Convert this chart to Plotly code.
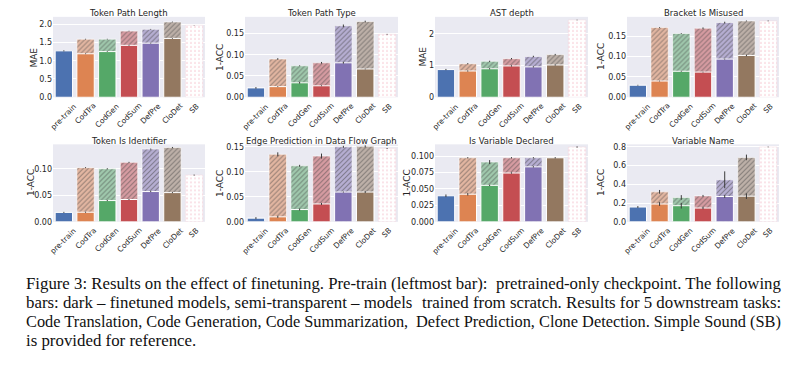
import plotly.graph_objects as go

# The page body has a default 8px margin; lay the figure out in page pixels.
OFF = 8
W, H = 796 - OFF, 367 - OFF

categories = ["pre-train", "CodTra", "CodGen", "CodSum", "DefPre", "CloDet", "SB"]
tasks = ["CodTra", "CodGen", "CodSum", "DefPre", "CloDet"]

titles = ["Token Path Length", "Token Path Type", "AST depth", "Bracket Is Misused",
          "Token Is Identifier", "Edge Prediction in Data Flow Graph",
          "Is Variable Declared", "Variable Name"]
ylabels = ["MAE", "1-ACC", "MAE", "1-ACC", "1-ACC", "1-ACC", "1-ACC", "1-ACC"]

pretrain = [1.27, 0.022, 0.875, 0.0297, 0.0177, 0.0073, 0.0396, 0.158]
pretrain_err = [0.015, 0.002, 0.02, 0.001, 0.001, 0.002, 0.002, 0.01]

finetuned = [
    [1.19, 1.25, 1.42, 1.48, 1.61],
    [0.025, 0.034, 0.027, 0.081, 0.0665],
    [0.83, 0.90, 0.99, 0.96, 1.02],
    [0.040, 0.064, 0.062, 0.094, 0.103],
    [0.018, 0.040, 0.042, 0.057, 0.055],
    [0.0099, 0.0245, 0.0357, 0.0595, 0.0595],
    [0.042, 0.0555, 0.0743, 0.0837, 0.0975],
    [0.19, 0.172, 0.147, 0.27, 0.274],
]
finetuned_err = [
    [0.01, 0.01, 0.01, 0.01, 0.01],
    [0.001, 0.002, 0.001, 0.002, 0.001],
    [0.02, 0.02, 0.02, 0.02, 0.02],
    [0.001, 0.001, 0.001, 0.001, 0.002],
    [0.001, 0.001, 0.001, 0.001, 0.001],
    [0.002, 0.002, 0.002, 0.001, 0.002],
    [0.002, 0.001, 0.001, 0.001, 0.001],
    [0.02, 0.03, 0.012, 0.015, 0.03],
]
scratch = [
    [1.59, 1.59, 1.81, 1.86, 2.06],
    [0.090, 0.074, 0.081, 0.168, 0.178],
    [1.06, 1.135, 1.22, 1.29, 1.35],
    [0.172, 0.157, 0.170, 0.184, 0.188],
    [0.102, 0.100, 0.112, 0.137, 0.140],
    [0.135, 0.112, 0.1315, 0.150, 0.151],
    [0.0975, 0.091, 0.0975, 0.0975, 0.0965],
    [0.32, 0.26, 0.277, 0.449, 0.688],
]
scratch_err = [
    [0.01, 0.01, 0.01, 0.01, 0.01],
    [0.002, 0.001, 0.002, 0.003, 0.002],
    [0.02, 0.02, 0.02, 0.02, 0.02],
    [0.001, 0.001, 0.002, 0.002, 0.001],
    [0.001, 0.001, 0.001, 0.001, 0.001],
    [0.004, 0.002, 0.005, 0.002, 0.002],
    [0.001, 0.003, 0.001, 0.001, 0.001],
    [0.02, 0.025, 0.01, 0.09, 0.03],
]
sb = [1.97, 0.148, 2.44, 0.188, 0.088, 0.1467, 0.1139, 0.80]
sb_err = [0.005, 0.001, 0.01, 0.001, 0.001, 0.001, 0.001, 0.004]

yranges = [2.2, 0.189, 2.54, 0.198, 0.146, 0.155, 0.118, 0.828]
yticks = [
    [0, 0.5, 1.0, 1.5, 2.0],
    [0, 0.05, 0.10, 0.15],
    [0, 1, 2],
    [0, 0.05, 0.10, 0.15],
    [0, 0.05, 0.10],
    [0, 0.05, 0.10, 0.15],
    [0, 0.025, 0.05, 0.075, 0.10],
    [0, 0.2, 0.4, 0.6, 0.8],
]
yfmt = [".1f", ".2f", "d", ".2f", ".2f", ".2f", ".3f", ".1f"]

caption_lines = [
    ("Figure 3: Results on the effect of finetuning. Pre-train (leftmost bar):",
     "pretrained-only checkpoint. The following"),
    ("bars: dark \u2013 finetuned models, semi-transparent \u2013 models",
     "trained from scratch. Results for 5 downstream tasks:"),
    ("Code Translation, Code Generation, Code Summarization,",
     "Defect Prediction, Clone Detection. Simple Sound (SB)"),
    ("is provided for reference.", ""),
]

colors = ["#4C72B0", "#DD8452", "#55A868", "#C44E52", "#8172B3", "#937860"]
BG = (234, 234, 242)


def blend(h, a):
    h = h.lstrip("#")
    rgb = (int(h[0:2], 16), int(h[2:4], 16), int(h[4:6], 16))
    r, g, b = (round(a * v + (1 - a) * bg) for v, bg in zip(rgb, BG))
    return f"rgb({r},{g},{b})"


def px_x(p):
    return (p - OFF) / W


def px_y(p):
    return 1 - (p - OFF) / H


# layout in page pixels
col_px = [(53, 205), (245, 398), (435, 588), (627, 779)]
row_px = [(15, 97), (145, 224)]
ytitle_x = [[34.5, 220, 423.5, 601], [31, 220, 407.5, 601]]

TXT = "#262626"
fig = go.Figure()
annotations = []

for k in range(8):
    r, c = divmod(k, 4)
    n = k + 1
    xa = "x" if n == 1 else f"x{n}"
    ya = "y" if n == 1 else f"y{n}"
    # scratch (semi-transparent, hatched)
    fig.add_trace(go.Bar(
        x=tasks, y=scratch[k], xaxis=xa, yaxis=ya,
        marker=dict(color=[blend(cc, 0.5) for cc in colors[1:]],
                    line=dict(color="rgba(255,255,255,0.6)", width=1),
                    pattern=dict(shape="/", fillmode="overlay", fgcolor="#ffffff",
                                 fgopacity=0.5, size=3.5, solidity=0.3)),
        error_y=dict(type="data", array=scratch_err[k], color="#3c3c3c",
                     thickness=1, width=0),
        showlegend=False, hoverinfo="skip"))
    # finetuned + pretrain (dark)
    fig.add_trace(go.Bar(
        x=categories[:6], y=[pretrain[k]] + finetuned[k], xaxis=xa, yaxis=ya,
        marker=dict(color=colors, line=dict(color="white", width=1)),
        error_y=dict(type="data", array=[pretrain_err[k]] + finetuned_err[k],
                     color="#3c3c3c", thickness=1, width=0),
        showlegend=False, hoverinfo="skip"))
    # simple baseline
    fig.add_trace(go.Bar(
        x=categories[6:], y=[sb[k]], xaxis=xa, yaxis=ya,
        marker=dict(color="white", line=dict(color="rgba(240,200,210,0.6)", width=0.5),
                    pattern=dict(shape=".", fillmode="overlay", fgcolor="#f2a7b8",
                                 fgopacity=0.6, size=4, solidity=0.15)),
        error_y=dict(type="data", array=[sb_err[k]], color="#3c3c3c",
                     thickness=1, width=0),
        showlegend=False, hoverinfo="skip"))

    x0, x1 = col_px[c]
    t0, t1 = row_px[r]
    xkey = "xaxis" if n == 1 else f"xaxis{n}"
    ykey = "yaxis" if n == 1 else f"yaxis{n}"
    fig.layout[xkey] = dict(
        domain=[px_x(x0), px_x(x1)], anchor=ya, type="category",
        categoryorder="array", categoryarray=categories,
        range=[-0.5, 6.5], showgrid=False, zeroline=False,
        showticklabels=False, ticks="", fixedrange=True)
    fig.layout[ykey] = dict(
        domain=[px_y(t1), px_y(t0)], anchor=xa, range=[0, yranges[k]],
        tickvals=yticks[k], tickformat=yfmt[k], showgrid=True,
        gridcolor="white", gridwidth=1, zeroline=False, ticks="",
        tickfont=dict(family="DejaVu Sans", size=8, color=TXT), fixedrange=True)

    # title
    annotations.append(dict(
        text=titles[k], xref="paper", yref="paper", x=px_x((x0 + x1) / 2),
        y=px_y(t0), xanchor="center", yanchor="bottom", yshift=-2.5,
        showarrow=False, borderpad=0,
        font=dict(family="DejaVu Sans", size=8.5, color=TXT)))
    # y label
    annotations.append(dict(
        text=ylabels[k], xref="paper", yref="paper", x=px_x(ytitle_x[r][c]),
        y=px_y((t0 + t1) / 2), xanchor="center", yanchor="middle",
        textangle=-90, showarrow=False,
        font=dict(family="DejaVu Sans", size=9, color=TXT)))
    # rotated category labels
    for i, cat in enumerate(categories):
        annotations.append(dict(
            text=cat, xref=xa, yref="paper", x=i, y=px_y(t1 + 3),
            xanchor="center", yanchor="top", textangle=-45, showarrow=False,
            borderpad=0, font=dict(family="DejaVu Sans", size=7.5, color=TXT)))

# caption (each line: left part flush left, right part flush right)
cap_y = [287, 306.5, 326, 345]
cap_size = [16.8, 16.85, 16.35, 16.85]
for (left, right), yy, fs in zip(caption_lines, cap_y, cap_size):
    font = dict(family="Liberation Serif", size=fs, color="#111111")
    annotations.append(dict(
        text=left, xref="paper", yref="paper", x=px_x(25), y=px_y(yy),
        xanchor="left", yanchor="middle", showarrow=False, borderpad=0,
        font=font))
    if right:
        annotations.append(dict(
            text=right, xref="paper", yref="paper", x=px_x(782), y=px_y(yy),
            xanchor="right", yanchor="middle", showarrow=False, borderpad=0,
            font=font))

fig.update_layout(
    width=W, height=H, margin=dict(l=0, r=0, t=0, b=0),
    paper_bgcolor="white", plot_bgcolor="#EAEAF2",
    barmode="overlay", bargap=0.2,
    annotations=annotations,
)

fig.write_html("out.html")
